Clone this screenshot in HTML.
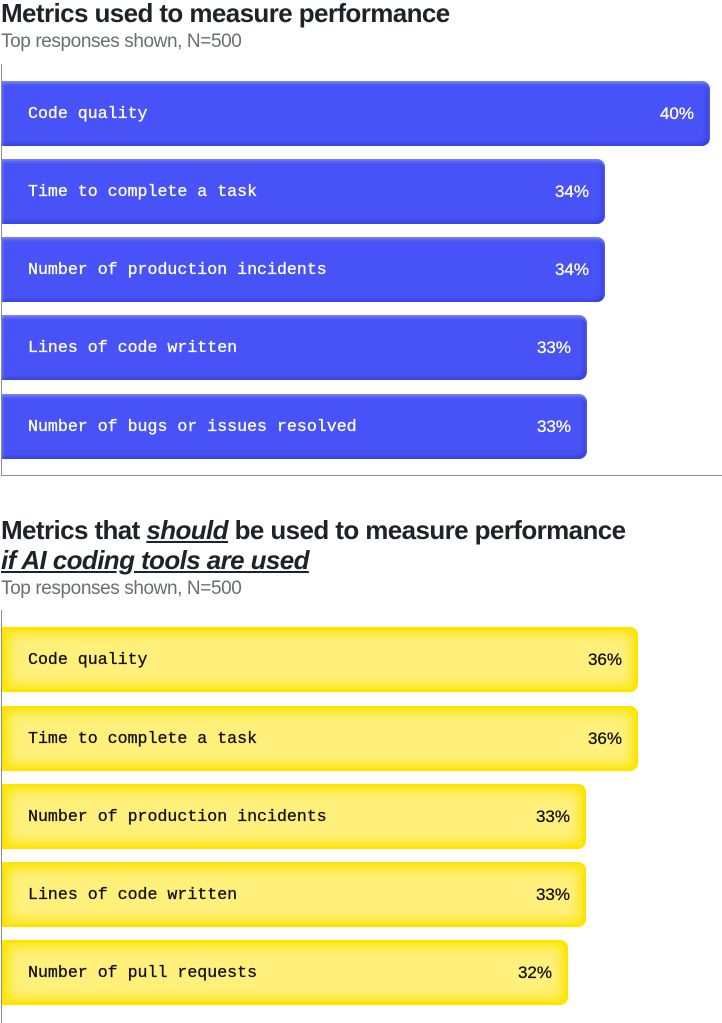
<!DOCTYPE html>
<html><head><style>
body{margin:0;width:722px;height:1023px;background:#fff;position:relative;overflow:hidden;font-family:"Liberation Sans",sans-serif}
.t{position:absolute;left:1px;font-weight:bold;font-size:26px;color:#1f2329;letter-spacing:-0.6px;white-space:nowrap}
.s{position:absolute;left:1px;font-size:19px;color:#6b6e73;letter-spacing:-0.4px;white-space:nowrap}
.ax{position:absolute;background:#8a8f96}
.b{position:absolute;left:2px;height:65px;border-radius:0 8px 8px 0;font-family:"Liberation Mono",monospace;font-size:16.6px;line-height:65px;box-sizing:border-box}
.b span{position:absolute;left:26px;-webkit-text-stroke:0.3px currentColor}
.b i{font-style:normal;position:absolute;right:16px;font-family:"Liberation Sans",sans-serif;font-size:17px;-webkit-text-stroke:0.3px currentColor}
.bl{background:#4753f6;color:#fff;box-shadow:inset 0 2px 3px rgba(255,255,255,.35),inset -3px -2px 4px rgba(20,30,180,.4)}
.y{background:#fff07c;color:#111;box-shadow:inset 0 0 0 3px #ffe400,inset 0 0 12px 6px #ffe400}
</style></head><body>
<div class="t" style="top:-2px">Metrics used to measure performance</div>
<div class="s" style="top:31px">Top responses shown, N=500</div>
<div class="ax" style="left:1px;top:64px;width:1px;height:412px"></div>
<div class="ax" style="left:1px;top:475px;width:721px;height:1px"></div>
<div class="b bl" style="top:81px;width:708px"><span>Code quality</span><i>40%</i></div>
<div class="b bl" style="top:159px;width:603px"><span>Time to complete a task</span><i>34%</i></div>
<div class="b bl" style="top:237px;width:603px"><span>Number of production incidents</span><i>34%</i></div>
<div class="b bl" style="top:315px;width:585px"><span>Lines of code written</span><i>33%</i></div>
<div class="b bl" style="top:394px;width:585px"><span>Number of bugs or issues resolved</span><i>33%</i></div>

<div class="t" style="top:515px">Metrics that <u><i>should</i></u> be used to measure performance</div>
<div class="t" style="top:545px"><u><i>if AI coding tools are used</i></u></div>
<div class="s" style="top:578px">Top responses shown, N=500</div>
<div class="ax" style="left:1px;top:610px;width:1px;height:413px"></div>
<div class="b y" style="top:627px;width:636px"><span>Code quality</span><i>36%</i></div>
<div class="b y" style="top:706px;width:636px"><span>Time to complete a task</span><i>36%</i></div>
<div class="b y" style="top:784px;width:584px"><span>Number of production incidents</span><i>33%</i></div>
<div class="b y" style="top:862px;width:584px"><span>Lines of code written</span><i>33%</i></div>
<div class="b y" style="top:940px;width:566px"><span>Number of pull requests</span><i>32%</i></div>
</body></html>
